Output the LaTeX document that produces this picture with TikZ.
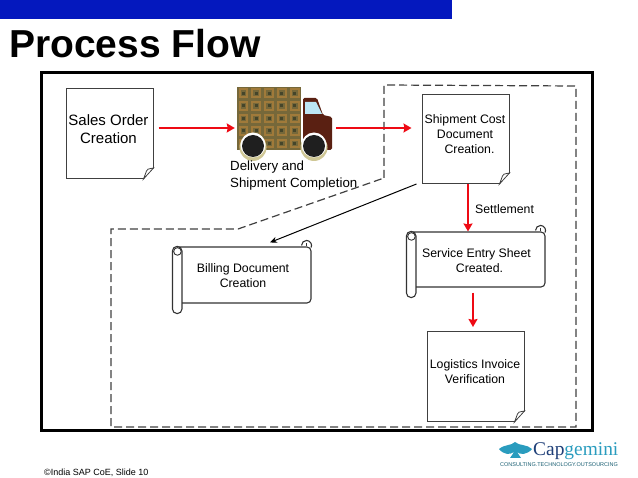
\documentclass[tikz,border=0pt]{standalone}
\usepackage{fontspec}
\setmainfont{Liberation Sans}
\newfontfamily\logofont{Liberation Serif}
\usetikzlibrary{arrows.meta,calc}

\definecolor{barblue}{HTML}{0418BE}
\definecolor{flowred}{HTML}{EE0A14}
\definecolor{lineink}{HTML}{404040}
\definecolor{cargo}{HTML}{76683A}
\definecolor{cargolight}{HTML}{A07A3A}
\definecolor{cargodark}{HTML}{45452A}
\definecolor{cabbrown}{HTML}{5A2012}
\definecolor{cabglass}{HTML}{BCE6F4}
\definecolor{halo}{HTML}{CFC795}
\definecolor{logoteal}{HTML}{2A9CBE}
\definecolor{logonavy}{HTML}{1F3F78}

\tikzset{
  paperbox/.style={draw=lineink,line width=1pt,fill=white,inner sep=0pt},
  scrollbox/.style={paperbox,draw=black!80,line width=1.1pt,rounded corners=4pt},
  boxtext/.style={font=\fontsize{12.3}{15}\selectfont,align=center,inner sep=0pt},
  bigtext/.style={font=\fontsize{15}{18}\selectfont,align=center,inner sep=0pt},
  redflow/.style={draw=flowred,line width=2.7pt,-{Stealth[length=8pt,width=9pt,inset=1pt]}},
  thinflow/.style={draw=black,line width=1pt,-{Stealth[length=7pt,width=6pt]}},
}

% paper sheet with a curled corner
\newcommand{\papernode}[4]{%
  \node[paperbox,minimum width=#3,minimum height=#4] (#1) at (#2) {};
  \fill[white] ([shift={(0.6,-11)}]#1.south east) -- ([shift={(-10,0.6)}]#1.south east) -- ([shift={(1,1)}]#1.south east) -- cycle;
  \draw[lineink,line width=0.8pt] ([shift={(0,-11)}]#1.south east) .. controls ([shift={(-5,-10)}]#1.south east) and ([shift={(-7,-10)}]#1.south east) .. ([shift={(-7,-8)}]#1.south east) -- ([shift={(-10,0)}]#1.south east) -- cycle;
}
% scroll with a rolled left side and a curl at the top right
\newcommand{\scrollnode}[4]{%
  \node[scrollbox,minimum width=#3,minimum height=#4] (#1) at (#2) {};
  \draw[black!80,line width=1.1pt] ([shift={(-10,-1)}]#1.north east) arc (180:385:5);
  \draw[black!80,line width=1pt] ([shift={(-5,0)}]#1.north east) -- ++(0,-3.5);
  \draw[black!80,line width=1.1pt,fill=white,rounded corners=4.5pt] (#1.north west) rectangle ($(#1.south west)+(9.5,10)$);
  \draw[black!80,line width=0.9pt] ($(#1.north west)+(5,5)$) circle (3.8);
}

\begin{document}
\begin{tikzpicture}[x=1pt,y=-1pt]
    \useasboundingbox (0,0) rectangle (638,478);

    % header %
    \fill[barblue] (0,0) rectangle (452,19);
    \node[anchor=base west,inner sep=0pt,font=\fontsize{39}{39}\selectfont\bfseries] (title) at (9,58) {Process Flow};

    % frame and dashed region %
    \draw[line width=3pt] (41,73) rectangle (592,431);
    \draw[lineink,line width=1.2pt,dash pattern=on 8pt off 4pt] (384,178) -- (384,85) -- (576,86) -- (576,427) -- (111,427) -- (111,229) -- (238,229) -- cycle;

    % truck %
    \node[minimum width=96,minimum height=72,inner sep=0pt] (truck) at (285,123) {};
    \fill[cargo] (237,87) rectangle (301,150);
    \foreach \i in {0,...,4} {
      \foreach \j in {0,...,4} {
        \fill[cargolight] (237+12.8*\i+1.5,87+12.6*\j+1.5) rectangle ++(9.8,9.6);
        \fill[cargo] (237+12.8*\i+3.5,87+12.6*\j+3.5) rectangle ++(5.8,5.6);
        \fill[cargodark] (237+12.8*\i+4.9,87+12.6*\j+4.7) rectangle ++(3,3);
      }
    }
    \fill[cabbrown,rounded corners=1.5pt] (303,150) -- (303,98) -- (317,98) -- (323,115) -- (332,117) -- (332,150) -- cycle;
    \fill[cabglass] (305,102) -- (316,102) -- (322,114) -- (305,114) -- cycle;
    \foreach \wheelx in {253,314} {
      \fill[halo] (\wheelx,147.5) circle (13.5);
      \fill[white] (\wheelx,145) circle (12.5);
      \fill[black!88] (\wheelx,146) circle (11);
    }
    \node[anchor=north west,inner sep=0pt,align=left,font=\fontsize{13.3}{17}\selectfont] (delivery) at (230,160.5) {Delivery and\\Shipment Completion};

    % documents %
    \papernode{sales}{109.5,133.5}{87}{90}
    \node[bigtext] (salestext) at (108.5,129) {Sales Order\\Creation};
    \papernode{ship}{465.5,139}{87}{89}
    \node[boxtext] (shiptext) at (465,134.5) {Shipment Cost\\Document\\\hspace*{9pt}Creation.};
    \papernode{logistics}{475.5,376.5}{97}{90}
    \node[boxtext] (logisticstext) at (475,371.5) {Logistics Invoice\\Verification};
    \scrollnode{billing}{242,275}{138}{56}
    \node[boxtext] (billingtext) at (243,275.5) {Billing Document\\Creation};
    \scrollnode{service}{476,259.5}{138}{55}
    \node[boxtext] (servicetext) at (476.5,260.5) {Service Entry Sheet\\\hspace*{6pt}Created.};
    \node[anchor=west,boxtext] (settle) at (475,209) {Settlement};

    % flow arrows %
    \draw[redflow] ([shift={(5,-5.5)}]sales.east) -- ([shift={(-2,5)}]truck.west);
    \draw[redflow] ([shift={(3,5)}]truck.east) -- ([shift={(-10,-11)}]ship.west);
    \draw[redflow] ([xshift=2.5]ship.south) -- ([xshift=-8]service.north);
    \draw[redflow] ([shift={(-3,5)}]service.south) -- ([shift={(-2.5,-4)}]logistics.north);
    \draw[thinflow] ([xshift=-5]ship.south west) -- ([shift={(28,-4)}]billing.north);

    % logo %
    \fill[logoteal] (499,449) .. controls (505,444) and (511,446) .. (515,442) .. controls (519,446) and (527,444) .. (532,449) .. controls (527,455) and (520,455) .. (517,452) -- (521,458) -- (510,458) -- (514,452) .. controls (510,455) and (504,455) .. (499,449) -- cycle;
    \node[anchor=base west,inner sep=0pt,font=\fontsize{19.4}{20}\logofont] (brand) at (533,456) {\textcolor{logonavy}{Cap}\textcolor{logoteal}{gemini}};
    \node[anchor=base west,inner sep=0pt,font=\fontsize{5.5}{6}\selectfont,text=logoteal!60!black] (tagline) at (500,467) {CONSULTING.TECHNOLOGY.OUTSOURCING};

    % footer %
    \node[anchor=base west,inner sep=0pt,font=\fontsize{9}{11}\selectfont] (footer) at (44,476) {\textcopyright India SAP CoE, Slide 10};
\end{tikzpicture}
\end{document}
